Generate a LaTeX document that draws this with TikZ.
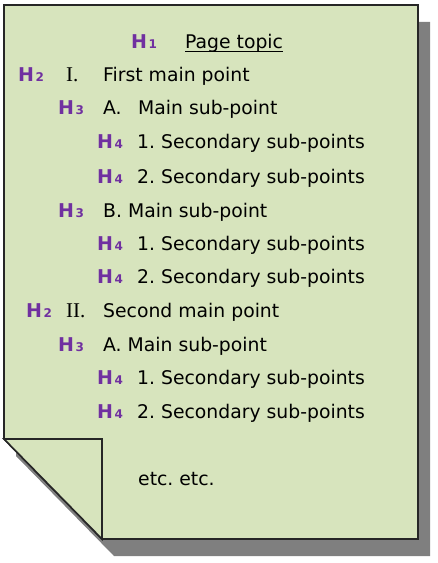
\documentclass[tikz,border=0pt]{standalone}
\usepackage{fontspec}
\setmainfont{DejaVu Sans}
\newfontfamily\numfont{Liberation Serif}
\newfontfamily\hfont{DejaVu Sans Bold}
\definecolor{pagegreen}{HTML}{D7E4BD}
\definecolor{hpurple}{HTML}{7030A0}
\definecolor{shadowgray}{HTML}{7F7F7F}
\definecolor{edgecol}{HTML}{262626}
\newcommand{\hlab}[1]{{\hfont\fontsize{19bp}{19bp}\selectfont H}\hspace{1.5bp}{\hfont\fontsize{12bp}{12bp}\selectfont #1}}
\begin{document}
\frenchspacing
\begin{tikzpicture}[x=1bp,y=-1bp,
  txt/.style={anchor=base west,inner sep=0pt,font=\fontsize{18.8bp}{22bp}\selectfont},
  roman/.style={anchor=base west,inner sep=0pt,font=\numfont\fontsize{21bp}{22bp}\selectfont},
  hl/.style={anchor=base west,inner sep=0pt,text=hpurple},
  edge/.style={draw=edgecol,line width=1.6bp,line join=miter}]
\useasboundingbox (0,0) rectangle (438,563);
% shadow
\fill[shadowgray] (16,22) -- (430,22) -- (430,556) -- (114,556) -- (16,456) -- cycle;
% page
\path[edge,fill=pagegreen] (4,5) -- (418,5) -- (418,539) -- (102,539) -- (4,439) -- cycle;
% folded flap
\path[edge,fill=pagegreen] (4,439) -- (102,439) -- (102,539) -- cycle;
% row 1
\node[hl] (h1) at (131,49) {\hlab{1}};
\node[txt] (pt) at (185,49) {Page topic};
\draw[line width=1bp] ([yshift=-3bp]pt.base west) -- ([yshift=-3bp]pt.base east);
% row 2
\node[hl] (h2a) at (18,82) {\hlab{2}};
\node[roman] (n1) at (66,82) {I.};
\node[txt] (t2) at (103,82) {First main point};
% row 3
\node[hl] (h3a) at (58,115) {\hlab{3}};
\node[txt] (a1) at (103,115) {A.};
\node[txt] (t3) at (138,115) {Main sub-point};
% row 4,5
\node[hl] (h4a) at (97,149) {\hlab{4}};
\node[txt] (t4) at (137,149) {1. Secondary sub-points};
\node[hl] (h4b) at (97,183) {\hlab{4}};
\node[txt] (t5) at (137,183) {2. Secondary sub-points};
% row 6
\node[hl] (h3b) at (58,217) {\hlab{3}};
\node[txt] (t6) at (103,217) {B. Main sub-point};
% row 7,8
\node[hl] (h4c) at (97,250) {\hlab{4}};
\node[txt] (t7) at (137,250) {1. Secondary sub-points};
\node[hl] (h4d) at (97,283) {\hlab{4}};
\node[txt] (t8) at (137,283) {2. Secondary sub-points};
% row 9
\node[hl] (h2b) at (26,317) {\hlab{2}};
\node[roman] (n2) at (66,317) {II.};
\node[txt] (t9) at (103,317) {Second main point};
% row 10
\node[hl] (h3c) at (58,351) {\hlab{3}};
\node[txt] (t10) at (103,351) {A. Main sub-point};
% row 11,12
\node[hl] (h4e) at (97,384) {\hlab{4}};
\node[txt] (t11) at (137,384) {1. Secondary sub-points};
\node[hl] (h4f) at (97,418) {\hlab{4}};
\node[txt] (t12) at (137,418) {2. Secondary sub-points};
% etc
\node[txt] (etc) at (138,485) {etc. etc.};
\end{tikzpicture}
\end{document}
